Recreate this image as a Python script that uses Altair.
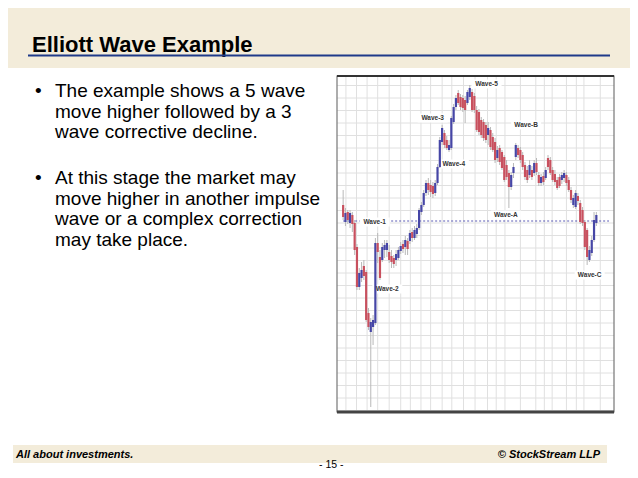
import altair as alt
import pandas as pd

# ---------------- data ----------------
# OHLC candles (price units = height above chart floor)
opens = [207,190,200,189,197,189,165,125,134,146,140,99,80,85,89,169,155,152,162,162,
         160,156,154,152,154,161,168,165,171,171,180,174,178,184,200,207,219,229,227,226,
         219,229,245,270,279,272,262,264,290,305,319,315,314,312,309,315,320,316,302,300,
         292,290,287,277,282,275,270,254,264,260,255,247,239,225,239,255,264,262,257,247,
         242,237,242,239,249,237,229,236,234,254,252,242,238,232,235,232,234,237,232,222,
         207,205,216,209,202,190,182,152,159,172,189]
closes = [195,199,192,199,188,162,125,139,142,136,92,85,90,92,169,160,134,165,167,169,
          152,150,148,158,162,166,163,172,163,179,174,182,184,202,207,219,229,222,220,218,
          229,245,272,284,267,264,267,294,305,314,309,305,304,302,320,324,302,302,282,280,
          277,274,272,284,265,262,252,262,250,244,232,235,225,237,245,267,257,252,245,235,
          232,247,235,249,240,229,235,230,242,245,239,232,230,224,226,237,239,229,222,212,
          214,219,211,190,189,165,155,162,172,192,197]
highs = [222,204,202,202,200,192,168,144,150,152,142,104,94,97,174,179,162,169,172,172,
         167,162,157,162,165,170,172,176,174,182,184,186,188,204,210,222,232,234,232,230,
         232,248,275,287,282,276,272,296,308,317,322,318,317,316,322,327,323,319,306,303,
         295,293,290,290,285,279,274,266,267,262,257,252,242,240,249,269,267,265,260,250,
         246,252,246,252,254,240,238,240,245,257,255,245,242,235,238,240,242,240,235,225,
         217,222,219,212,205,192,184,166,176,200,200]
lows = [192,186,188,184,180,157,122,122,130,132,90,82,5,67,87,149,132,150,154,155,
        149,144,144,146,152,158,159,157,157,168,170,172,174,182,197,205,216,217,215,214,
        216,227,244,267,264,262,260,262,288,302,307,302,300,289,307,312,300,299,280,277,
        274,271,269,267,262,260,249,250,247,242,230,232,204,222,234,252,254,249,242,232,
        229,234,232,236,237,226,226,227,232,242,237,230,227,222,224,228,230,226,220,209,
        204,203,207,188,186,162,147,150,156,170,186]

# Wave annotations (candle index, price)
wave_labels = ["Wave-1", "Wave-2", "Wave-3", "Wave-4", "Wave-5", "Wave-A", "Wave-B", "Wave-C"]
wave_idx = [13.7, 19.2, 38.9, 48.1, 62.3, 70.7, 79.5, 107.1]
wave_price = [190, 123, 294, 248, 328, 197, 287, 137]

wave1_level = 191  # dotted reference level (top of wave 1)

# chart grid positions
grid_price = [1.5, 14, 26.5, 39, 51.5, 64, 76.5, 89, 101.5, 114, 126.5, 139, 151.5, 164,
              176.5, 189, 201.5, 214, 226.5, 239, 251.5, 264, 276.5, 289, 301.5, 314, 326.5]
grid_idx = [1.2, 5.8, 10.4, 15, 20, 25, 29.2, 33.8, 38, 43, 47.2, 52.3, 57.3, 62.7,
            66.5, 70.3, 77, 83.7, 87.4, 90.8, 97, 101.3, 104.6, 111.7]

title = "Elliott Wave Example"
bullet1 = ["The example shows a 5 wave", "move higher followed by a 3", "wave corrective decline."]
bullet2 = ["At this stage the market may", "move higher in another impulse",
           "wave or a complex correction", "may take place."]
footer_left = "All about investments."
footer_right = "© StockStream LLP"
page_no = "- 15 -"

# ---------------- styling ----------------
W, H = 622, 462
BEIGE = "#F3ECDA"
BLUE = "#4646a6"
RED = "#c8505e"
FONT = "Liberation Sans"

candles = pd.DataFrame({"i": list(range(len(opens))), "open": opens, "close": closes,
                        "high": highs, "low": lows})
candles["dir"] = ["up" if c >= o else "down" for o, c in zip(opens, closes)]
labels = pd.DataFrame({"t": wave_labels, "i": wave_idx, "p": wave_price})
gp = pd.DataFrame({"g": grid_price})
gi = pd.DataFrame({"g": grid_idx})
one = pd.DataFrame({"k": [0]})

# frame in chart coordinates (page minus 8px margin)
FX0, FX1, FY0, FY1 = 329, 606, 68, 404
xs = alt.Scale(domain=[-0.5, 115.5], range=[FX0, FX1], nice=False, zero=False)
ys = alt.Scale(domain=[0, 336], range=[FY1, FY0], nice=False, zero=False)


def txt(s, x, y, size, weight="normal", style="normal", align="left", color="#000000"):
    return alt.Chart(one).mark_text(text=s, align=align, baseline="alphabetic", fontSize=size,
                                    fontWeight=weight, fontStyle=style, font=FONT,
                                    color=color).encode(x=alt.value(x), y=alt.value(y))


def rect(x0, x1, y0, y1, color):
    return alt.Chart(one).mark_rect(color=color).encode(
        x=alt.value(x0), x2=alt.value(x1), y=alt.value(y0), y2=alt.value(y1))


layers = []
# header band
layers.append(rect(0, W, 0, 60, BEIGE))
layers.append(txt(title, 24, 44, 22, weight="bold"))
layers.append(alt.Chart(one).mark_rule(color="#1F3A8A", strokeWidth=2).encode(
    x=alt.value(20), x2=alt.value(602), y=alt.value(47.5)))

# bullets
for k, line in enumerate(bullet1):
    y = 89 + k * 20.6
    if k == 0:
        layers.append(txt("•", 27, y, 19))
    layers.append(txt(line, 47, y, 19))
for k, line in enumerate(bullet2):
    y = 176 + k * 20.6
    if k == 0:
        layers.append(txt("•", 27, y, 19))
    layers.append(txt(line, 47, y, 19))

# chart panel background
layers.append(rect(FX0, FX1, FY0, FY1, "#ffffff"))
layers.append(alt.Chart(gi).mark_rule(color="#e0e0e0", strokeWidth=1).encode(
    x=alt.X("g:Q", scale=xs, axis=None), y=alt.value(FY0), y2=alt.value(FY1)))
layers.append(alt.Chart(gp).mark_rule(color="#e0e0e0", strokeWidth=1).encode(
    y=alt.Y("g:Q", scale=ys, axis=None), x=alt.value(FX0), x2=alt.value(FX1)))
layers.append(alt.Chart(one).mark_rule(color="#5a5ab4", strokeWidth=1, strokeDash=[2, 2]).encode(
    y=alt.Y(datum=wave1_level, scale=ys, axis=None),
    x=alt.X(datum=0, scale=xs, axis=None), x2=alt.datum(115.5)))
layers.append(alt.Chart(labels).mark_point(shape="M-1,-0.3H1V0.3H-1Z", filled=True, fill="#ffffff",
                                           opacity=1, size=900, strokeWidth=0).encode(
    x=alt.X("i:Q", scale=xs, axis=None), y=alt.Y("p:Q", scale=ys, axis=None)))
layers.append(alt.Chart(candles).mark_rule(color="#b8b8b8", strokeWidth=1).encode(
    x=alt.X("i:Q", scale=xs, axis=None), y=alt.Y("low:Q", scale=ys, axis=None), y2="high:Q"))
layers.append(alt.Chart(candles).mark_bar(size=2.2).encode(
    x=alt.X("i:Q", scale=xs, axis=None), y=alt.Y("open:Q", scale=ys, axis=None), y2="close:Q",
    color=alt.Color("dir:N", scale=alt.Scale(domain=["up", "down"], range=[BLUE, RED]), legend=None)))
layers.append(alt.Chart(labels).mark_text(font=FONT, fontSize=6.5, fontWeight="bold", color="#333333",
                                          baseline="middle").encode(
    x=alt.X("i:Q", scale=xs, axis=None), y=alt.Y("p:Q", scale=ys, axis=None), text="t:N"))
# frame
layers.append(alt.Chart(one).mark_rect(fillOpacity=0, stroke="#777777", strokeWidth=1.2).encode(
    x=alt.value(FX0), x2=alt.value(FX1), y=alt.value(FY0), y2=alt.value(FY1)))
layers.append(alt.Chart(one).mark_rule(color="#333333", strokeWidth=2).encode(
    x=alt.value(FX0), x2=alt.value(FX1), y=alt.value(FY0)))
layers.append(alt.Chart(one).mark_rule(color="#444444", strokeWidth=3).encode(
    x=alt.value(FX0), x2=alt.value(FX1), y=alt.value(FY1)))

# footer
layers.append(rect(5, 599, 437, 455, BEIGE))
layers.append(txt(footer_left, 8, 450, 11, weight="bold", style="italic"))
layers.append(txt(footer_right, 592, 450, 11, weight="bold", style="italic", align="right"))
layers.append(txt(page_no, 311, 459.5, 10.5))

chart = alt.layer(*layers).properties(
    width=W, height=H, padding=0, autosize=alt.AutoSizeParams(type="none"), background="#ffffff"
).configure_view(stroke=None)

chart.save("out.html", embed_options={"renderer": "svg", "actions": False})
